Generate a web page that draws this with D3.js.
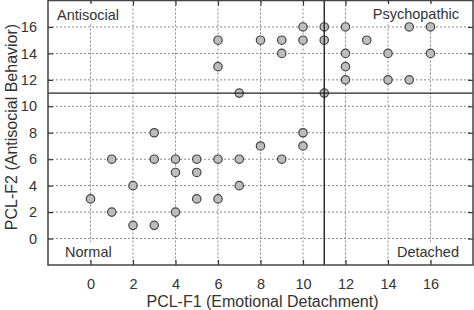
<!DOCTYPE html>
<html>
<head>
<meta charset="utf-8">
<script src="https://cdn.jsdelivr.net/npm/d3@7"></script>
<style>
  body { margin: 0; background: #fff; }
  svg text { font-family: "Liberation Sans", Arial, sans-serif; fill: #333; }
</style>
</head>
<body>
<svg id="chart" width="474" height="310"></svg>
<script>
// PCL-F1 (x) and PCL-F2 (y) scores
var f1 = [6, 8, 6, 7, 10, 11, 12, 15, 16, 9, 10, 11, 13, 9, 12, 14, 16, 12, 12, 14, 15, 11,
          3, 1, 3, 4, 5, 6, 7, 8, 4, 5, 2, 7, 0, 5, 6, 1, 4, 2, 3, 10, 10, 9];
var f2 = [15, 15, 13, 11, 16, 16, 16, 16, 16, 15, 15, 15, 15, 14, 14, 14, 14, 13, 12, 12, 12, 11,
          8, 6, 6, 6, 6, 6, 6, 7, 5, 5, 4, 4, 3, 3, 3, 2, 2, 1, 1, 8, 7, 6];
var tickValues = [0, 2, 4, 6, 8, 10, 12, 14, 16];
var cutoff = 11;
var quadrants = ['Antisocial', 'Psychopathic', 'Normal', 'Detached'];

var svg = d3.select('#chart');
var pLeft = 48, pRight = 473, pTop = 0.5, pBottom = 265;

var x = d3.scaleLinear().domain([-2, 18]).range([pLeft, pRight]);
var y = d3.scaleLinear().domain([-2, 18]).range([pBottom, pTop]);

// dotted grid
svg.append('g').selectAll('line').data(tickValues).join('line')
  .attr('x1', d => x(d)).attr('x2', d => x(d))
  .attr('y1', pTop).attr('y2', pBottom)
  .attr('stroke', '#888').attr('stroke-dasharray', '2,2');
svg.append('g').selectAll('line').data(tickValues).join('line')
  .attr('y1', d => y(d)).attr('y2', d => y(d))
  .attr('x1', pLeft).attr('x2', pRight)
  .attr('stroke', '#888').attr('stroke-dasharray', '2,2');

// axes with inner ticks on all sides
function styleAxis(g) {
  g.select('.domain').remove();
  g.selectAll('.tick line').attr('stroke', '#333').attr('stroke-width', 1.2);
  g.selectAll('.tick text').style('font-size', '14.5px').attr('fill', '#333');
}
svg.append('g').attr('transform', `translate(0,${pBottom})`)
  .call(d3.axisBottom(x).tickValues(tickValues).tickSizeInner(-5).tickPadding(14))
  .call(styleAxis);
svg.append('g').attr('transform', `translate(0,${pTop})`)
  .call(d3.axisTop(x).tickValues(tickValues).tickSizeInner(-5).tickFormat(''))
  .call(styleAxis);
svg.append('g').attr('transform', `translate(${pLeft},0)`)
  .call(d3.axisLeft(y).tickValues(tickValues).tickSizeInner(-5).tickPadding(11))
  .call(styleAxis);
svg.append('g').attr('transform', `translate(${pRight},0)`)
  .call(d3.axisRight(y).tickValues(tickValues).tickSizeInner(-5).tickFormat(''))
  .call(styleAxis);

// points
svg.append('g').selectAll('circle').data(f1).join('circle')
  .attr('cx', (d, i) => x(d))
  .attr('cy', (d, i) => y(f2[i]))
  .attr('r', 4.2)
  .attr('fill', '#bdbdbd')
  .attr('stroke', '#444')
  .attr('stroke-width', 1.2);

// cutoff lines
svg.append('line')
  .attr('x1', x(cutoff)).attr('x2', x(cutoff)).attr('y1', pTop).attr('y2', pBottom)
  .attr('stroke', '#222').attr('stroke-width', 1.4);
svg.append('line')
  .attr('y1', y(cutoff)).attr('y2', y(cutoff)).attr('x1', pLeft).attr('x2', pRight)
  .attr('stroke', '#222').attr('stroke-width', 1.4);

// frame
svg.append('rect')
  .attr('x', pLeft).attr('y', pTop)
  .attr('width', pRight - pLeft).attr('height', pBottom - pTop)
  .attr('fill', 'none').attr('stroke', '#444').attr('stroke-width', 1.5);

// quadrant labels
var ql = svg.append('g').style('font-size', '14.5px');
ql.append('rect').attr('x', 54).attr('y', 4).attr('width', 72).attr('height', 20).attr('fill', '#fff');
ql.append('text').attr('x', 57).attr('y', 20).text(quadrants[0]);
ql.append('rect').attr('x', 369).attr('y', 4).attr('width', 92).attr('height', 18).attr('fill', '#fff');
ql.append('text').attr('x', 459).attr('y', 19).attr('text-anchor', 'end').text(quadrants[1]);
ql.append('rect').attr('x', 62).attr('y', 242).attr('width', 56).attr('height', 18).attr('fill', '#fff');
ql.append('text').attr('x', 65).attr('y', 257).text(quadrants[2]);
ql.append('rect').attr('x', 396).attr('y', 242).attr('width', 66).attr('height', 18).attr('fill', '#fff');
ql.append('text').attr('x', 459).attr('y', 257).attr('text-anchor', 'end').text(quadrants[3]);

// axis titles
svg.append('text')
  .attr('x', (pLeft + pRight) / 2 + 2).attr('y', 307)
  .attr('text-anchor', 'middle').style('font-size', '16px')
  .text('PCL-F1 (Emotional Detachment)');
svg.append('text')
  .attr('transform', 'translate(17,127) rotate(-90)')
  .attr('text-anchor', 'middle').style('font-size', '16px')
  .text('PCL-F2 (Antisocial Behavior)');
</script>
</body>
</html>
